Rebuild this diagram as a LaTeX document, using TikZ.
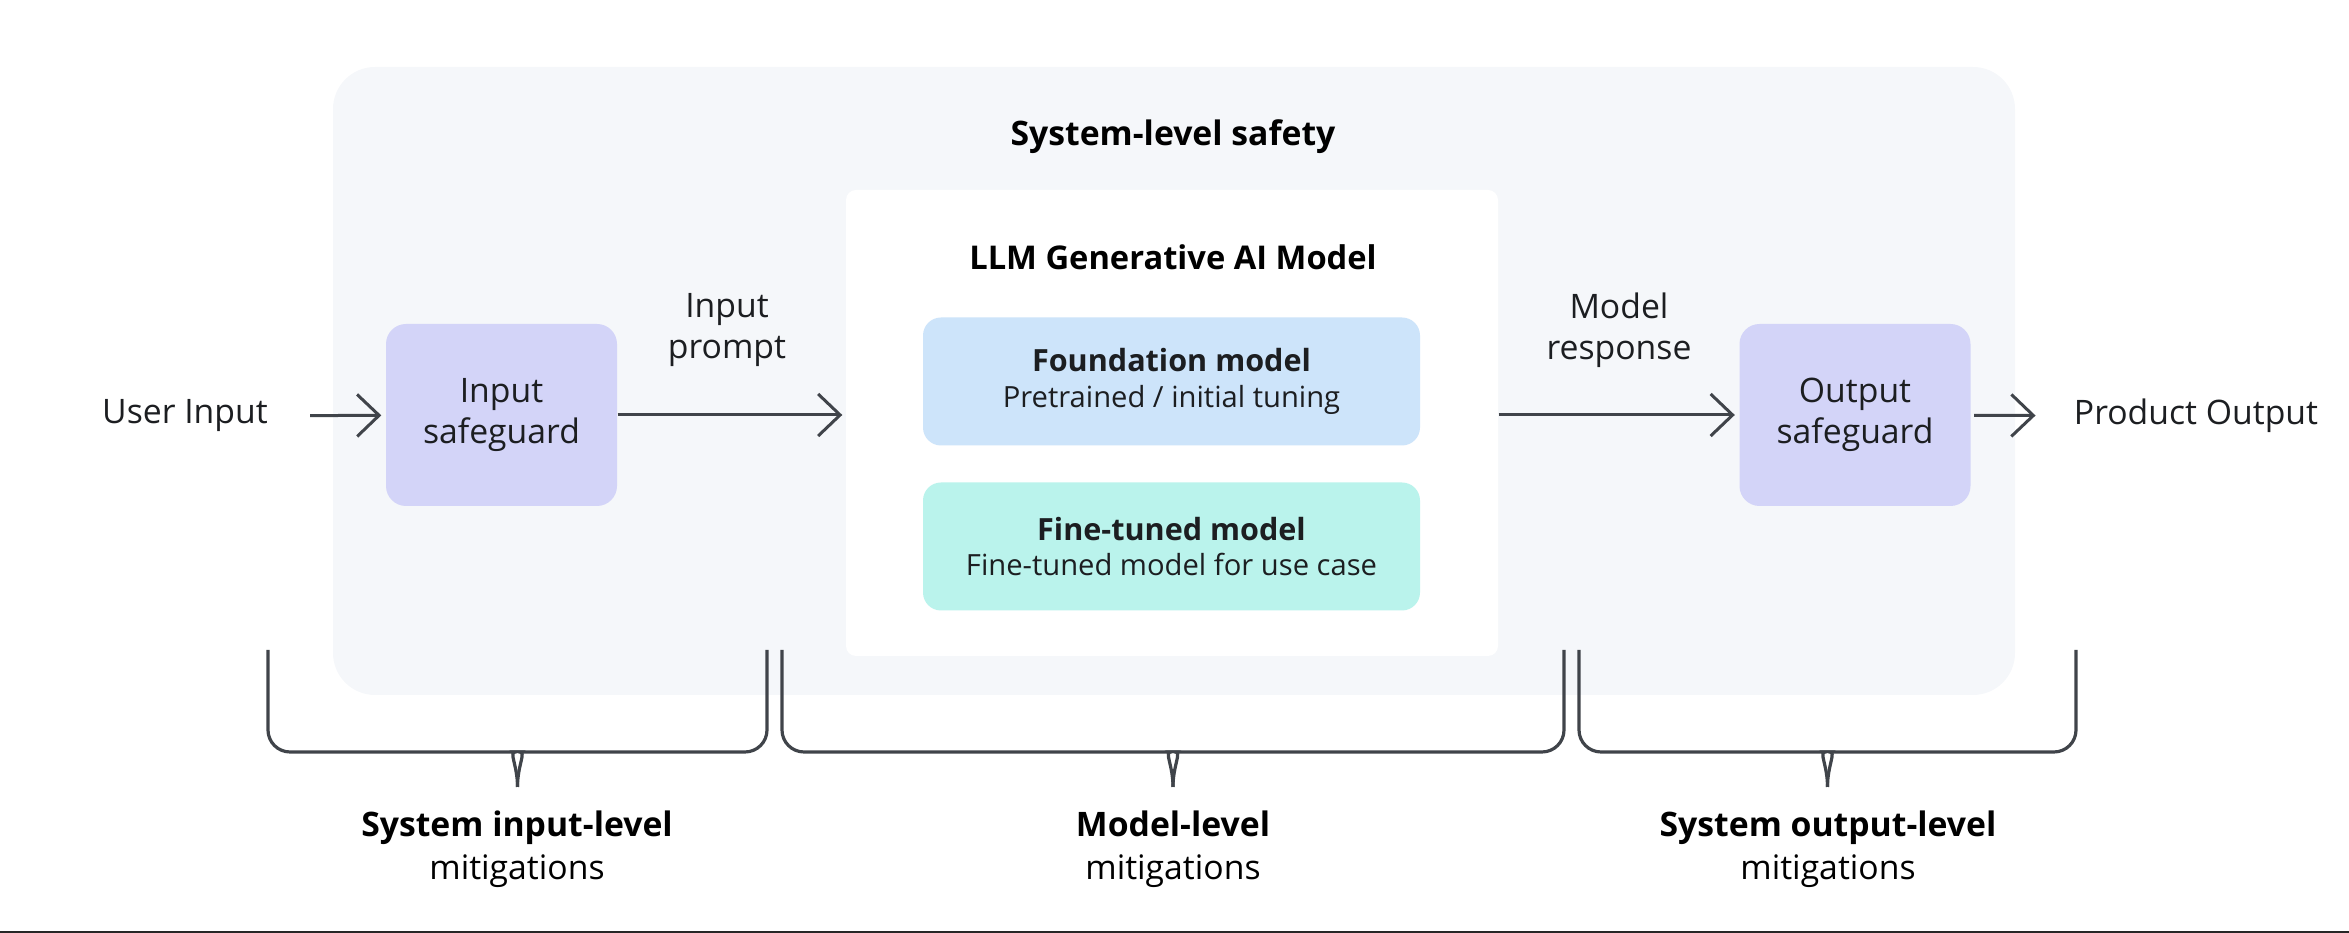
\documentclass[tikz,border=0pt]{standalone}
\usepackage{fontspec}
\setmainfont{Open Sans}
\usepackage{xcolor}
\usepackage{tikz}
\usetikzlibrary{positioning, arrows.meta, calc}
\definecolor{sysGray}{RGB}{245, 247, 250}
\definecolor{guardLav}{RGB}{211, 212, 248}
\definecolor{baseBlue}{RGB}{205, 228, 250}
\definecolor{tuneTeal}{RGB}{186, 243, 236}
\definecolor{inkDark}{RGB}{28, 30, 33}
\definecolor{lineGray}{RGB}{64, 68, 74}

\begin{document}
\begin{tikzpicture}[
    font=\fontsize{9.6}{11.7}\selectfont\color{inkDark},
    guard/.style={rectangle, rounded corners=0.2cm, fill=guardLav, text=inkDark,
        minimum width=2.31cm, minimum height=1.82cm, align=center},
    layer/.style={rectangle, rounded corners=0.18cm, text=inkDark,
        minimum width=4.97cm, minimum height=1.28cm, align=center,
        font=\fontsize{8.7}{10.2}\selectfont},
    tag/.style={align=center, font=\fontsize{9.6}{12.2}\selectfont},
    arr/.style={-{Straight Barb[length=0.22cm, width=0.42cm, line width=0.03cm]},
        line width=0.03cm, lineGray},
    brc/.style={line width=0.032cm, lineGray, rounded corners=0.22cm}
]
\useasboundingbox (0,0) rectangle (23.49,9.33);

% panels
\node[fill=sysGray, rounded corners=0.42cm, minimum width=16.82cm, minimum height=6.28cm] (sys) at (11.74,5.52) {};
\node[fill=white, rounded corners=0.1cm, minimum width=6.52cm, minimum height=4.66cm] (llm) at (11.72,5.10) {};
\node[font=\fontsize{9.6}{11.7}\selectfont\bfseries] (systitle) at (11.73,7.96) {System-level safety};
\node[font=\fontsize{9.3}{11.7}\selectfont\bfseries] (llmtitle) at (11.73,6.76) {LLM Generative AI Model};

\node[layer, fill=baseBlue] (found) at (11.715,5.515) {\textbf{Foundation model}\\{\fontsize{8.3}{10.2}\selectfont Pretrained / initial tuning}};
\node[layer, fill=tuneTeal] (fine)  at (11.715,3.865) {\textbf{Fine-tuned model}\\{\fontsize{8.3}{10.2}\selectfont Fine-tuned model for use case}};

% flow
\node (user) at (1.85,5.17) {User Input};
\node[guard] (insafe)  at (5.015,5.18) {Input\\safeguard};
\node[guard] (outsafe) at (18.55,5.18) {Output\\safeguard};
\node (product) at (21.96,5.17) {Product Output};
\node[align=center] (prompt) at (7.27,6.03) {Input\\prompt};
\node[align=center] (resp)   at (16.19,6.03) {Model\\response};

\draw[arr, shorten <=0.30cm, shorten >=0.04cm] (user) -- (insafe);
\draw[arr, shorten >=0.03cm] (insafe.east) -- (insafe.east -| llm.west);
\draw[arr, shorten >=0.04cm] (llm.east |- outsafe.west) -- (outsafe.west);
\draw[arr, shorten <=0.03cm, shorten >=0.26cm] (outsafe) -- (product);

% mitigation braces
\foreach \xa/\xb in {2.68/7.67, 7.82/15.64, 15.79/20.76} {
    \pgfmathsetmacro{\xm}{(\xa+\xb)/2}
    \draw[brc] (\xa,2.83) -- (\xa,1.81) -- (\xm-0.24,1.81) .. controls (\xm-0.09,1.81) and (\xm,1.68) .. (\xm,1.46);
    \draw[brc] (\xb,2.83) -- (\xb,1.81) -- (\xm+0.24,1.81) .. controls (\xm+0.09,1.81) and (\xm,1.68) .. (\xm,1.46);
}
\node[tag] (inlab)    at (5.17,0.84)  {\textbf{System input-level}\\mitigations};
\node[tag] (modellab) at (11.73,0.84) {\textbf{Model-level}\\mitigations};
\node[tag] (outlab)   at (18.28,0.84) {\textbf{System output-level}\\mitigations};

\draw[line width=0.025cm, black!85] (0,0.012) -- (23.49,0.012);
\end{tikzpicture}
\end{document}
